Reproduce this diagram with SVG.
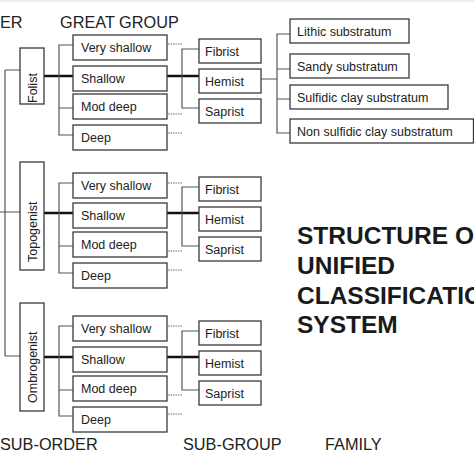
<svg xmlns="http://www.w3.org/2000/svg" width="474" height="474" viewBox="0 0 474 474">
<style>
  text { font-family: "Liberation Sans", Arial, sans-serif; fill: #222; }
  .box { fill: #fff; stroke: #3a3a3a; stroke-width: 1.3; }
  .lbl { font-size: 12.5px; }
  .hdr { font-size: 16.3px; }
  .title { font-size: 24.5px; font-weight: bold; fill: #1a1a1a; }
  .thin { fill: none; stroke: #555; stroke-width: 1.2; }
  .thick { fill: none; stroke: #111; stroke-width: 2.6; }
  .dot { fill: none; stroke: #666; stroke-width: 1.1; stroke-dasharray: 1.4 1.1; }
</style>
<rect x="0" y="0" width="474" height="474" fill="#fff"/>
<rect x="0" y="0" width="474" height="2" fill="#ececec"/>

<!-- headers -->
<text class="hdr" x="0" y="28">ER</text>
<text class="hdr" x="60" y="28">GREAT GROUP</text>
<text class="hdr" x="0" y="450">SUB-ORDER</text>
<text class="hdr" x="183" y="450">SUB-GROUP</text>
<text class="hdr" x="325" y="450">FAMILY</text>

<!-- title -->
<text class="title" x="297" y="244">STRUCTURE O</text>
<text class="title" x="297" y="274">UNIFIED</text>
<text class="title" x="297" y="304">CLASSIFICATIO</text>
<text class="title" x="297" y="333">SYSTEM</text>

<g id="connectors">
  <!-- trunk -->
  <path class="thin" d="M5,70 V356 M5,70 H20 M0,212 H20 M5,356 H20"/>
  <!-- Folist -->
  <path class="thick" d="M44,76 H73 M167,76 H199"/>
  <path class="thin" d="M73,45 H59 V135 H73 M59,108 H73"/>
  <path class="dot" d="M168,44 H183 M168,114 H183 M168,133 H183"/>
  <path class="thin" d="M199,49 H182 V108 H199"/>
  <path class="thin" d="M261,79 H277 M290,34 H277 V133 H290 M277,69 H290 M277,99 H290"/>
  <!-- Topogenist -->
  <path class="thick" d="M44,213 H73 M167,213 H199"/>
  <path class="thin" d="M73,183 H59 V273 H73 M59,246 H73"/>
  <path class="dot" d="M168,183 H183 M168,251 H183 M168,270 H183"/>
  <path class="thin" d="M199,187 H182 V246 H199"/>
  <!-- Ombrogenist -->
  <path class="thick" d="M44,357 H73 M167,357 H199"/>
  <path class="thin" d="M73,326 H59 V416 H73 M59,390 H73"/>
  <path class="dot" d="M168,326 H183 M168,395 H183 M168,414 H183"/>
  <path class="thin" d="M199,331 H182 V390 H199"/>
</g>

<!-- Folist branch -->
<g id="folist">
  <rect class="box" x="20" y="48" width="24" height="56"/>
  <text class="lbl" transform="translate(36.5,103) rotate(-90)">Folist</text>
</g>
<g id="folist-very-shallow"><rect class="box" x="73" y="35" width="94" height="25"/><text class="lbl" x="81" y="52">Very shallow</text></g>
<g id="folist-shallow"><rect class="box" x="73" y="66" width="94" height="25"/><text class="lbl" x="81" y="83">Shallow</text></g>
<g id="folist-mod-deep"><rect class="box" x="73" y="94" width="94" height="25"/><text class="lbl" x="81" y="111">Mod deep</text></g>
<g id="folist-deep"><rect class="box" x="73" y="125" width="94" height="25"/><text class="lbl" x="81" y="142">Deep</text></g>
<g id="folist-fibrist"><rect class="box" x="199" y="39" width="62" height="24"/><text class="lbl" x="205" y="56">Fibrist</text></g>
<g id="folist-hemist"><rect class="box" x="199" y="69" width="62" height="24"/><text class="lbl" x="205" y="86">Hemist</text></g>
<g id="folist-saprist"><rect class="box" x="199" y="99" width="62" height="24"/><text class="lbl" x="205" y="116">Saprist</text></g>

<!-- Family -->
<g id="lithic"><rect class="box" x="290" y="19" width="119" height="24"/><text class="lbl" x="297" y="36">Lithic substratum</text></g>
<g id="sandy"><rect class="box" x="290" y="54" width="119" height="24"/><text class="lbl" x="297" y="71">Sandy substratum</text></g>
<g id="sulfidic"><rect class="box" x="290" y="85" width="158" height="24"/><text class="lbl" x="297" y="102">Sulfidic clay substratum</text></g>
<g id="non-sulfidic"><rect class="box" x="290" y="119" width="183.5" height="24"/><text class="lbl" x="297" y="136">Non sulfidic clay substratum</text></g>

<!-- Topogenist branch -->
<g id="topogenist">
  <rect class="box" x="20" y="162" width="24" height="108"/>
  <text class="lbl" transform="translate(36.5,262) rotate(-90)">Topogenist</text>
</g>
<g id="topo-very-shallow"><rect class="box" x="73" y="173" width="94" height="25"/><text class="lbl" x="81" y="190">Very shallow</text></g>
<g id="topo-shallow"><rect class="box" x="73" y="203" width="94" height="25"/><text class="lbl" x="81" y="220">Shallow</text></g>
<g id="topo-mod-deep"><rect class="box" x="73" y="232" width="94" height="25"/><text class="lbl" x="81" y="249">Mod deep</text></g>
<g id="topo-deep"><rect class="box" x="73" y="263" width="94" height="25"/><text class="lbl" x="81" y="280">Deep</text></g>
<g id="topo-fibrist"><rect class="box" x="199" y="177" width="62" height="24"/><text class="lbl" x="205" y="194">Fibrist</text></g>
<g id="topo-hemist"><rect class="box" x="199" y="207" width="62" height="24"/><text class="lbl" x="205" y="224">Hemist</text></g>
<g id="topo-saprist"><rect class="box" x="199" y="237" width="62" height="24"/><text class="lbl" x="205" y="254">Saprist</text></g>

<!-- Ombrogenist branch -->
<g id="ombrogenist">
  <rect class="box" x="20" y="303" width="24" height="108"/>
  <text class="lbl" transform="translate(36.5,403) rotate(-90)">Ombrogenist</text>
</g>
<g id="ombro-very-shallow"><rect class="box" x="73" y="316" width="94" height="25"/><text class="lbl" x="81" y="333">Very shallow</text></g>
<g id="ombro-shallow"><rect class="box" x="73" y="347" width="94" height="25"/><text class="lbl" x="81" y="364">Shallow</text></g>
<g id="ombro-mod-deep"><rect class="box" x="73" y="376" width="94" height="25"/><text class="lbl" x="81" y="393">Mod deep</text></g>
<g id="ombro-deep"><rect class="box" x="73" y="407" width="94" height="25"/><text class="lbl" x="81" y="424">Deep</text></g>
<g id="ombro-fibrist"><rect class="box" x="199" y="321" width="62" height="24"/><text class="lbl" x="205" y="338">Fibrist</text></g>
<g id="ombro-hemist"><rect class="box" x="199" y="351" width="62" height="24"/><text class="lbl" x="205" y="368">Hemist</text></g>
<g id="ombro-saprist"><rect class="box" x="199" y="381" width="62" height="24"/><text class="lbl" x="205" y="398">Saprist</text></g>
</svg>
